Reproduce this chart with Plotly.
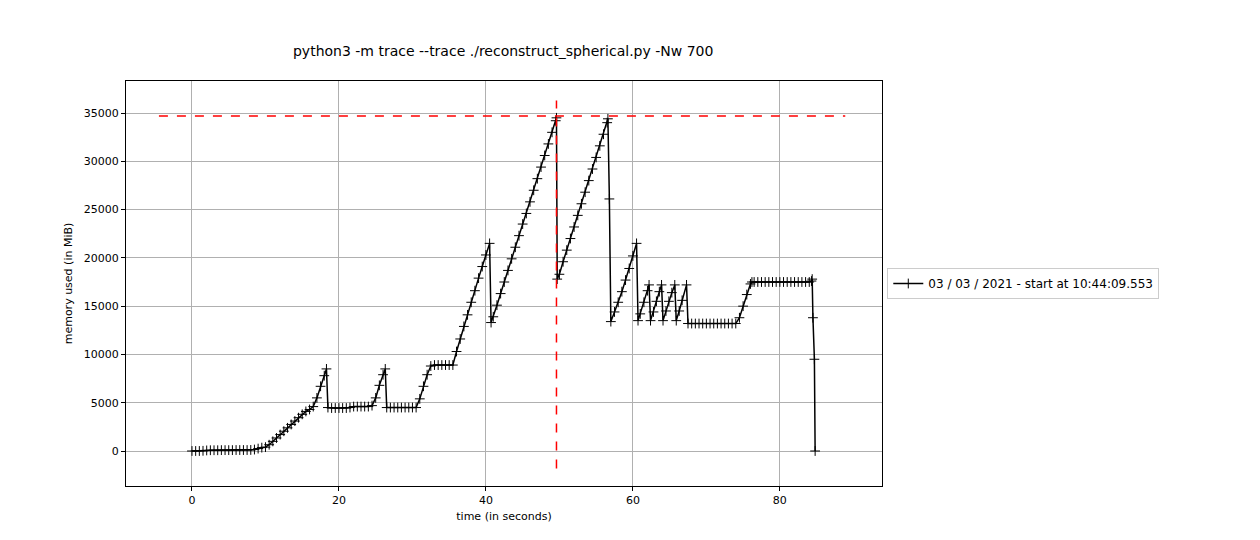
import plotly.graph_objects as go

# time (s) and memory (MiB)
time_s = [0, 0.5, 1, 1.5, 2, 2.5, 3, 3.5, 4, 4.5, 5, 5.5, 6, 6.5, 7, 7.5, 8, 8.5, 9, 9.5, 10,
          10.5, 11, 11.5, 12, 12.5, 13, 13.5, 14, 14.5, 15, 15.5, 16, 16.5, 17, 17.5, 18, 18.3,
          18.5, 19, 19.5, 20, 20.5, 21, 21.5, 22, 22.5, 23, 23.5, 24, 24.5, 25, 25.5, 26, 26.3,
          26.5, 27, 27.5, 28, 28.5, 29, 29.5, 30, 30.5, 31, 31.5, 32, 32.5, 33, 33.5, 34, 34.5, 35, 35.5,
          36, 36.5, 37, 37.5, 38, 38.5, 39, 39.5, 40, 40.5,
          40.7, 41, 41.5, 42, 42.5, 43, 43.5, 44, 44.5, 45, 45.5, 46, 46.5, 47, 47.5, 48, 48.5, 49, 49.5, 49.6,
          49.7, 50, 50.5, 51, 51.5, 52, 52.5, 53, 53.5, 54, 54.5, 55, 55.5, 56, 56.5, 56.6, 56.8,
          57, 57.5, 58, 58.5, 59, 59.5, 60, 60.5,
          60.7, 61, 61.5, 62, 62.2, 62.4, 62.8, 63.2, 63.6, 63.9, 64.1, 64.5, 64.9, 65.3, 65.7,
          65.9, 66.3, 66.7, 67.3, 67.5, 68, 68.5, 69, 69.5, 70, 70.5, 71, 71.5, 72, 72.5, 73, 73.5, 74,
          74.5, 75, 75.5, 76, 76.2, 76.5, 77, 77.5, 78, 78.5, 79, 79.5, 80, 80.5, 81, 81.5, 82, 82.5,
          83, 83.5, 84, 84.3, 84.4, 84.5, 84.7, 84.8]
mem_mib = [0, 0, 0, 20, 60, 80, 80, 80, 90, 90, 90, 90, 100, 100, 100, 100, 110, 150, 250, 350, 400,
           650, 1000, 1350, 1700, 2050, 2400, 2750, 3100, 3450, 3800, 4100, 4300, 4600, 5500, 6700, 7800, 8500,
           4500, 4450, 4450, 4450, 4450, 4450, 4500, 4600, 4600, 4600, 4600, 4600, 4700, 5500, 6800, 7900, 8500,
           4500, 4500, 4500, 4500, 4500, 4500, 4500, 4500, 4500, 5400, 6700, 7900, 8800, 8900, 8900, 8900, 8900, 8900, 8900,
           10300, 11600, 12900, 14100, 15400, 16600, 17900, 19100, 20300, 21500,
           13300, 13900, 15100, 16300, 17500, 18700, 19900, 21100, 22300, 23500, 24600, 25800, 27000, 28200, 29400, 30600, 31800, 33000, 34200, 34500,
           17800, 18300, 19600, 20800, 22000, 23200, 24400, 25600, 26800, 28000, 29200, 30400, 31600, 32800, 34000, 34400, 26100,
           13400, 14400, 15400, 16500, 17700, 18900, 20200, 21500,
           13500, 14200, 15400, 16600, 17200, 13500, 14400, 15500, 16500, 17200, 13500, 14500, 15500, 16400, 17200,
           13500, 14500, 15600, 17200, 13200, 13200, 13200, 13200, 13200, 13200, 13200, 13200, 13200, 13200, 13200, 13200, 13200, 13200,
           13800, 15000, 16200, 17300, 17500, 17500, 17500, 17500, 17500, 17500, 17500, 17500, 17500, 17500, 17500, 17500, 17500, 17500,
           17500, 17500, 17500, 17600, 17800, 13800, 9500, 0]

peak_mem = 34700
peak_time = 49.6
hline_x = [-4.5, 88.9]
vline_y = [-1800, 36300]
legend_label = "03 / 03 / 2021 - start at 10:44:09.553"
title = "python3 -m trace --trace ./reconstruct_spherical.py -Nw 700"

fig = go.Figure()
fig.add_trace(go.Scatter(
    x=time_s, y=mem_mib, mode="lines+markers", name=legend_label,
    line=dict(color="black", width=1.5),
    marker=dict(symbol="cross-thin", size=7, line=dict(color="black", width=1)),
))
fig.add_trace(go.Scatter(x=hline_x, y=[peak_mem, peak_mem], mode="lines", showlegend=False,
                         line=dict(color="red", width=1.5, dash="dash")))
fig.add_trace(go.Scatter(x=[peak_time, peak_time], y=vline_y, mode="lines", showlegend=False,
                         line=dict(color="red", width=1.5, dash="dash")))

axis_style = dict(showgrid=True, gridcolor="#b0b0b0", gridwidth=1, zeroline=False,
                  showline=True, linecolor="black", linewidth=1, mirror=True,
                  ticks="outside", ticklen=4, tickcolor="black", tickfont=dict(size=11))
fig.update_xaxes(range=[-8.98, 93.9], dtick=20,
                 title=dict(text="time (in seconds)", font=dict(size=11), standoff=6), **axis_style)
fig.update_yaxes(range=[-3624, 38314], dtick=5000, tickformat="d",
                 title=dict(text="memory used (in MiB)", font=dict(size=11), standoff=8), **axis_style)
fig.update_layout(
    width=1260, height=540,
    margin=dict(l=118, r=386, t=73, b=62),
    paper_bgcolor="white", plot_bgcolor="white",
    font=dict(family="DejaVu Sans", color="black", size=12),
    title=dict(text=title, x=0.393, xanchor="center", y=0.92, yanchor="middle", font=dict(size=14)),
    legend=dict(x=1.007, y=0.5, xanchor="left", yanchor="middle",
                bordercolor="#cccccc", borderwidth=1, font=dict(size=12)),
)
fig.write_html("out.html")
